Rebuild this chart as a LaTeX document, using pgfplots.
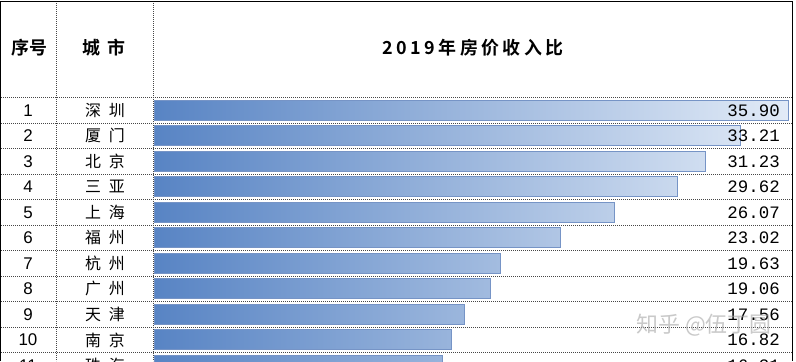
\documentclass[border=0pt]{standalone}
\usepackage{fontspec}
\usepackage{pgfplots}
\pgfplotsset{compat=1.18}
\usepackage{pgfplotstable}
\setmainfont{Liberation Sans}
\newfontfamily\cjk{Noto Sans CJK SC}
\newfontfamily\cjkb{Noto Sans CJK SC Bold}
\newfontfamily\mono{Liberation Mono}
\definecolor{bardark}{RGB}{88,132,196}
\definecolor{barlight}{RGB}{226,235,247}
\definecolor{barline}{RGB}{118,148,198}
\definecolor{gridc}{RGB}{70,70,70}

\pgfplotstableread{
row val
1 35.90
2 33.21
3 31.23
4 29.62
5 26.07
6 23.02
7 19.63
8 19.06
9 17.56
10 16.82
11 16.31
}\ratio

\begin{document}
\begin{tikzpicture}[x=1bp,y=-1bp]
\useasboundingbox (0,0) rectangle (796,361);
\clip (0,0) rectangle (796,361);
\fill[white] (0,0) rectangle (796,361);
\begin{axis}[
  at={(154.5bp,-97.5bp)}, anchor=north west,
  scale only axis, width=635.4bp, height=280.7bp,
  xmin=0, xmax=36, ymin=0.5, ymax=11.5, y dir=reverse,
  hide axis, clip=false]
\addplot[xbar, bar width=20bp, bar shift=0pt, left color=bardark, right color=barlight,
  draw=barline, line width=1bp] table[x=val, y=row] {\ratio};
\end{axis}
% grid
\tikzset{dl/.style={draw=gridc, line width=0.8bp, dash pattern=on 1bp off 1bp}}
\foreach \k in {1,...,10} {
  \pgfmathsetmacro\yy{97.5+25.52*\k}
  \draw[dl] (1,\yy) -- (792,\yy);
}
\draw[dl, line width=1.6bp] (1,97.5) -- (792,97.5);
\draw[dl] (56,1) -- (56,361);
\draw[dl] (153,1) -- (153,361);
\draw[black, line width=1.2bp] (0.6,361) -- (0.6,1.2) -- (792.4,1.2) -- (792.4,361);
% header
\node[font=\cjkb\fontsize{18}{18}\selectfont] at (29,48) {序号};
\node[font=\cjkb\fontsize{18}{18}\selectfont] at (104,48) {城\hspace{7bp}市};
\node[font=\cjkb\fontsize{18}{18}\selectfont\addfontfeature{LetterSpace=19}] at (473,48) {2019年房价收入比};
% rows
\foreach \i/\c/\v in {1/深\hspace{8bp}圳/35.90, 2/厦\hspace{8bp}门/33.21, 3/北\hspace{8bp}京/31.23,
  4/三\hspace{8bp}亚/29.62, 5/上\hspace{8bp}海/26.07, 6/福\hspace{8bp}州/23.02,
  7/杭\hspace{8bp}州/19.63, 8/广\hspace{8bp}州/19.06, 9/天\hspace{8bp}津/17.56,
  10/南\hspace{8bp}京/16.82, 11/珠\hspace{8bp}海/16.31} {
  \pgfmathsetmacro\yc{97.5+25.52*(\i-0.5)}
  \node[font=\fontsize{17}{17}\selectfont] at (28,\yc) {\i};
  \node[font=\cjk\fontsize{16}{16}\selectfont] at (105,\yc) {\c};
  \node[font=\mono\fontsize{17.5}{17.5}\selectfont, anchor=east, inner sep=0pt] at (780,\yc) {\v};
}
% watermark
\node[text=gray!70, opacity=0.6, font=\cjk\fontsize{22}{22}\selectfont] at (704,325) {知乎 @伍丁圆};
\end{tikzpicture}
\end{document}
